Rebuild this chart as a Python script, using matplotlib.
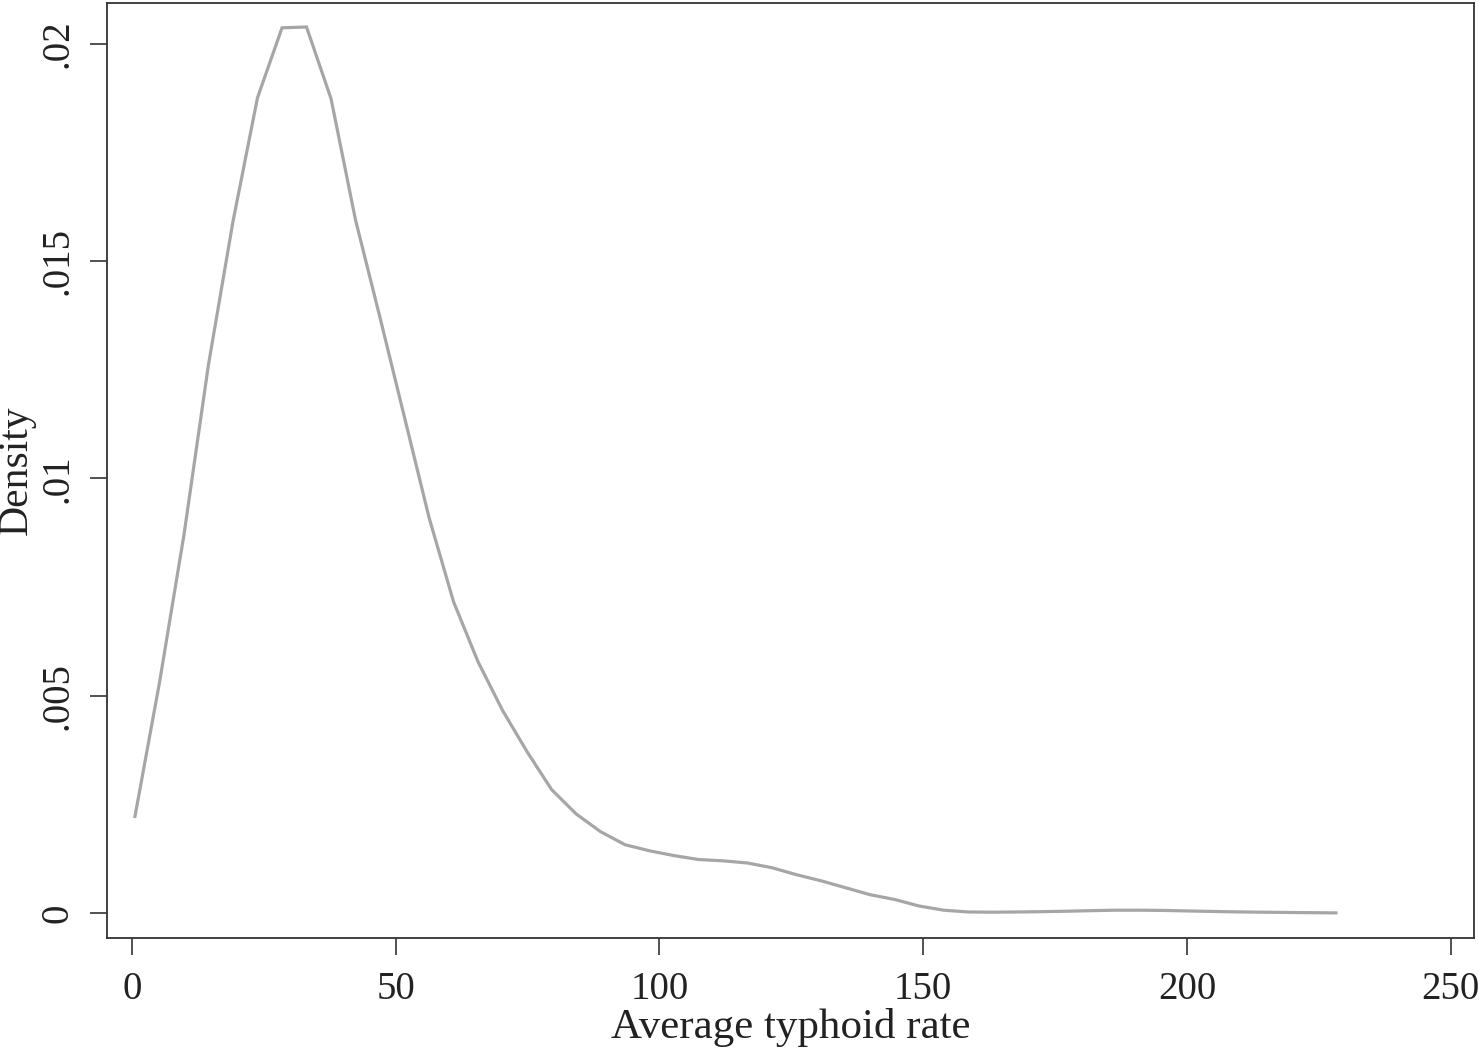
import numpy as np
import matplotlib
matplotlib.use('Agg')
import matplotlib.pyplot as plt

# Kernel density estimate of average typhoid rate
rate = [0.57, 5.22, 9.86, 14.51, 19.15, 23.80, 28.45, 33.09, 37.74, 42.38,
        47.03, 51.68, 56.32, 60.97, 65.61, 70.26, 74.91, 79.55, 84.20, 88.84,
        93.49, 98.14, 102.78, 107.43, 112.07, 116.72, 121.37, 126.01, 130.66, 135.30,
        139.95, 144.60, 149.24, 153.89, 158.53, 163.18, 167.83, 172.47, 177.12, 181.76,
        186.41, 191.06, 195.70, 200.35, 204.99, 209.64, 214.29, 218.93, 223.58, 228.22]
density = [0.00222, 0.00530, 0.00870, 0.01262, 0.01591, 0.01876, 0.02037, 0.02039, 0.01874, 0.01595,
           0.01370, 0.01140, 0.00910, 0.00716, 0.00578, 0.00466, 0.00371, 0.00284, 0.00228, 0.00187,
           0.00157, 0.00143, 0.00132, 0.00123, 0.00120, 0.00115, 0.00104, 0.00088, 0.00074, 0.00058,
           0.00042, 0.00031, 0.00016, 0.000064, 0.000023, 0.000018, 0.000023, 0.000030, 0.000040, 0.000053,
           0.000064, 0.000064, 0.000058, 0.000046, 0.000035, 0.000025, 0.000018, 0.000012, 0.000007, 0.000002]

x_ticks = [0, 50, 100, 150, 200, 250]
y_ticks = [0, 0.005, 0.01, 0.015, 0.02]
y_tick_labels = ['0', '.005', '.01', '.015', '.02']

plt.rcParams['font.family'] = ['Liberation Serif', 'DejaVu Serif']

fig = plt.figure(figsize=(14.79, 10.52), dpi=100)
ax = fig.add_axes([0.0723, 0.1084, 0.9243, 0.8887])

ax.plot(rate, density, color='#a6a6a6', linewidth=2.3, solid_joinstyle='miter')

ax.set_xlim(-4.74, 254.4)
ax.set_ylim(-0.000575, 0.02094)

ax.set_xticks(x_ticks)
ax.set_xticklabels([str(t) for t in x_ticks])
ax.set_yticks(y_ticks)
ax.set_yticklabels(y_tick_labels, rotation=90, va='center')

ax.tick_params(axis='both', direction='out', length=12, width=1.2,
               color='#333333', labelsize=28, labelcolor='#222222')
ax.tick_params(axis='x', pad=12)
ax.tick_params(axis='y', pad=10)

for sp in ax.spines.values():
    sp.set_color('#333333')
    sp.set_linewidth(1.3)

ax.set_xlabel('Average typhoid rate', fontsize=31, color='#222222', labelpad=0)
ax.set_ylabel('Density', fontsize=30, color='#222222', labelpad=2.5)

fig.savefig('out.png', dpi=100, facecolor='white')
